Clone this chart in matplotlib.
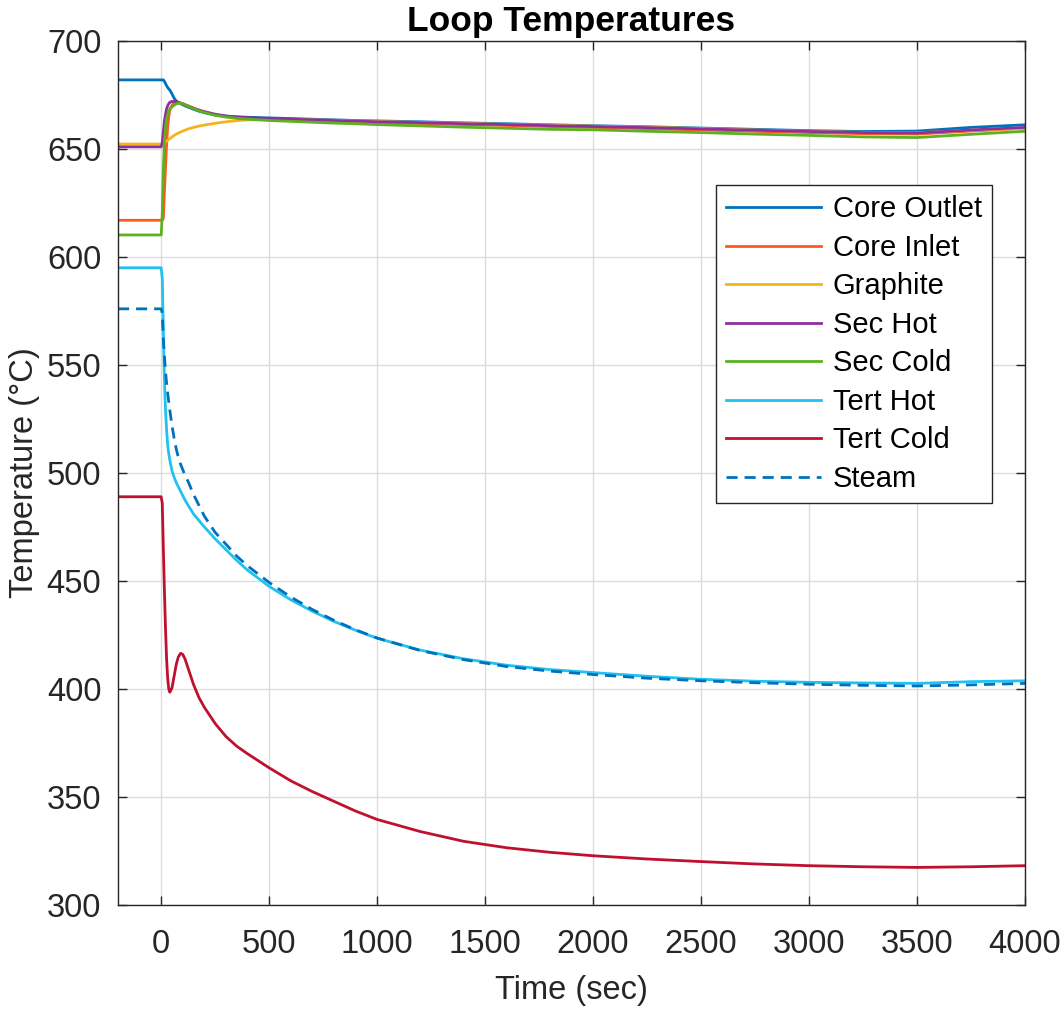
import matplotlib
matplotlib.use("Agg")
import matplotlib.pyplot as plt

plt.rcParams['font.family'] = ['Liberation Sans', 'DejaVu Sans']

time_s = [-200, 0, 5, 10, 15, 20, 25, 30, 35, 40, 50, 60, 70, 80, 90, 100, 110, 125, 150, 175,
          200, 250, 300, 350, 400, 500, 600, 700, 800, 900, 1000, 1200, 1400, 1600, 1800, 2000,
          2250, 2500, 2750, 3000, 3250, 3500, 3750, 4000]

core_outlet = [682, 682, 682, 682, 681.3, 680.3, 679.3, 678.5, 677.8, 677.3, 675.5, 673.5, 672.2,
               671.5, 671, 670.5, 670, 669.4, 668.4, 667.5, 666.8, 665.8, 665.2, 664.9, 664.7,
               664.4, 664.1, 663.8, 663.5, 663.2, 663, 662.6, 662.1, 661.7, 661.2, 660.8, 660.3,
               659.7, 659.1, 658.5, 658.1, 658.3, 660, 661.2]
core_inlet = [617, 617, 617, 618, 630, 641, 652, 660, 665, 668, 670.2, 671.2, 671.5, 671.5, 671.3,
              671, 670.6, 670, 669, 668, 667.1, 665.8, 665, 664.5, 664.1, 663.6, 663.3, 663, 662.7,
              662.4, 662.2, 661.8, 661.3, 660.9, 660.4, 660, 659.4, 658.8, 658.2, 657.6, 657.1,
              656.9, 658.3, 659.6]
graphite = [652.3, 652.3, 652.5, 652.8, 653, 653.3, 653.6, 654, 654.4, 654.8, 655.6, 656.3, 656.9,
            657.4, 657.9, 658.3, 658.7, 659.3, 660, 660.6, 661.1, 661.9, 662.6, 663.1, 663.5,
            663.8, 663.7, 663.5, 663.3, 663, 662.8, 662.3, 661.9, 661.4, 661, 660.6, 660.1, 659.5,
            658.8, 658.2, 657.7, 657.5, 658.7, 659.6]
sec_hot = [651, 651, 653, 658, 663, 666, 668.5, 670, 671, 671.6, 672, 672, 671.9, 671.6, 671.2,
           670.8, 670.4, 669.8, 668.8, 668, 667.3, 666.1, 665.3, 664.8, 664.5, 664.1, 663.8,
           663.5, 663.2, 662.9, 662.6, 662.2, 661.7, 661.3, 660.8, 660.4, 659.9, 659.3, 658.7,
           658.1, 657.6, 657.4, 658.8, 660]
sec_cold = [610.2, 610.2, 620, 640, 654, 660, 664, 666, 667.5, 668.5, 669.5, 670.3, 670.9, 671.2,
            671.2, 670.9, 670.5, 669.8, 668.7, 667.7, 666.9, 665.6, 664.8, 664.2, 663.8, 663.2,
            662.8, 662.4, 662, 661.7, 661.3, 660.7, 660.1, 659.6, 659.1, 658.9, 658.2, 657.6,
            656.9, 656.3, 655.6, 655.3, 656.8, 658.2]
tert_hot = [595, 595, 590, 566, 543, 529, 520, 513, 509, 506, 501, 498, 495.5, 493.5, 491.5, 489.5,
            487.5, 485, 481, 478, 475, 469.5, 464.5, 459.5, 455, 447.5, 441.3, 436, 431.3, 427.2,
            423.5, 418, 414, 411, 409, 407.6, 405.9, 404.5, 403.6, 403.1, 402.8, 402.6, 403.4,
            403.8]
tert_cold = [489, 489, 486, 465, 445, 428, 414, 405, 400, 398.5, 400.5, 406, 411.5, 415, 416.5,
             416, 414, 409.5, 402, 396, 391.5, 384, 378, 373.5, 370, 363.5, 357.5, 352.5, 348,
             343.5, 339.6, 334, 329.5, 326.5, 324.4, 322.8, 321.3, 320.1, 319, 318.2, 317.7,
             317.4, 317.7, 318.2]
steam = [576, 576, 574, 562, 554, 547, 541.5, 537, 533, 529, 522, 516, 511, 507, 504, 501.5, 499,
         496, 490, 485, 480, 472.5, 467, 461.5, 457, 449.3, 442.6, 436.8, 431.8, 427.4, 423.6,
         417.8, 413.6, 410.4, 408.3, 406.7, 405, 403.8, 402.9, 402.2, 401.7, 401.4, 401.9, 402.6]

labels = ['Core Outlet', 'Core Inlet', 'Graphite', 'Sec Hot', 'Sec Cold', 'Tert Hot', 'Tert Cold', 'Steam']
series = [core_outlet, core_inlet, graphite, sec_hot, sec_cold, tert_hot, tert_cold, steam]
colors = ['#0072BD', '#FF5A1E', '#F5B31E', '#8E2F9E', '#5BB21E', '#21C2F0', '#C0102F', '#0072BD']
styles = ['-', '-', '-', '-', '-', '-', '-', '--']

fig = plt.figure(figsize=(10.63, 10.10), dpi=100)
ax = fig.add_axes([118/1063, 1 - 905/1010, (1025-118)/1063, (905-41)/1010])

for y, lab, c, ls in zip(series, labels, colors, styles):
    if ls == '--':
        ax.plot(time_s, y, color=c, linestyle=ls, linewidth=2.0, label=lab, dashes=(4, 2.5))
    else:
        ax.plot(time_s, y, color=c, linestyle=ls, linewidth=2.0, label=lab)

ax.set_xlim(-200, 4000)
ax.set_ylim(300, 700)
ax.set_xticks(range(0, 4001, 500))
ax.set_yticks(range(300, 701, 50))
ax.grid(True, color='#dcdcdc', linewidth=1.0)
ax.set_axisbelow(True)
ax.tick_params(direction='in', length=6.5, width=1.0, top=True, right=True,
               labelsize=23.5, colors='#262626')
ax.tick_params(axis='x', pad=17)
ax.tick_params(axis='y', pad=12)
for s in ax.spines.values():
    s.set_color('#262626')
    s.set_linewidth(1.0)

ax.set_xlabel('Time (sec)', fontsize=23.5, color='#262626', labelpad=11)
ax.set_ylabel('Temperature (°C)', fontsize=23.5, color='#262626', labelpad=5)
ax.set_title('Loop Temperatures', fontsize=25.5, fontweight='bold', pad=7)

leg = ax.legend(loc='upper right', bbox_to_anchor=(0.9636, 0.833), fontsize=21,
                frameon=True, fancybox=False, framealpha=1, edgecolor='#262626',
                handlelength=3.25, handletextpad=0.4, labelspacing=0.36,
                borderpad=0.35, borderaxespad=0)
leg.get_frame().set_linewidth(1.0)

fig.savefig('out.png', dpi=100)
